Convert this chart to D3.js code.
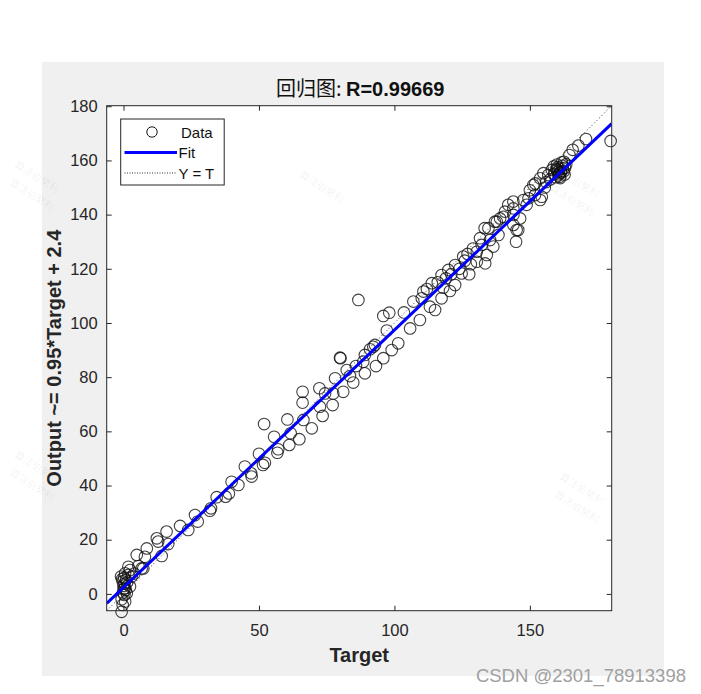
<!DOCTYPE html>
<html>
<head>
<meta charset="utf-8">
<script src="https://cdn.jsdelivr.net/npm/d3@7"></script>
<style>
  body { margin: 0; background: #fff; }
</style>
</head>
<body>
<div id="chart"></div>
<script>
// targets / outputs
var targets = [
  -0.7, -0.3, -0.7, 0.3, 0.8, -0.2, 0.5, 0, 0.4, -0.3, 0.9, 0.2, -0.9, 1.8, 2.4, 3.0, 1.8, 2.4, 0.6, 1.2, 0.1, -0.5, 0.6, 1.3,
  4.9, 8.6, 7.9, 6.7, 5.5, 7.3, 4.0,
  12.3, 12.8, 14.1, 15.9, 16.5, 20.9, 23.9, 26.4, 27.4, 31.9, 32.3, 34.4, 37.7, 38.9, 39.9, 42.4, 44.8, 47.1, 47.3, 50.0,
  51.5, 52.2, 51.9, 55.6, 57.1, 56.8, 60.5, 61.7, 61.2, 64.9, 66.1, 66.1, 66.4, 69.5, 72.3, 72.5, 73.5, 74.4, 77.4, 77.2,
  78.1, 81.1, 79.9, 80.1, 82.4, 83.6, 84.8, 85.8, 86.7, 88.5, 89.1, 89.1, 91.0, 92.2, 92.8, 93.2, 95.9, 95.9, 98.1, 97.2,
  99.0, 101.4, 103.5, 105.8, 107.0, 109.4, 110.1, 110.7, 113.8, 113.1, 115.0, 117.4, 117.4, 119.9, 120.5, 122.4, 122.4,
  124.8, 125.4, 127.6, 128.2, 130.4, 130.4, 131.6, 132.2, 133.3, 133.5, 134.1, 134.7, 135.3, 136.5, 137.1, 137.8, 138.4,
  139.0, 140.2, 140.8, 142.0, 143.9, 143.9, 143.9, 143.9, 144.9, 145.1, 145.7, 146.4, 147.6, 148.8, 151.3, 151.9, 153.8,
  154.4, 153.8, 155.0, 156.8, 158.1,
  159, 160, 160.5, 161, 161.5, 162, 162.5, 160, 159.5, 161.2, 162.8, 163, 158.8, 157.5, 161.8,
  160.3, 161.4, 160.8, 159.8, 162.2, 161.0, 160.2, 163.4,
  162.6, 164.6, 165.8, 167.9, 170.7, 179.8,
  112, 116, 119, 121, 126, 127, 129, 124, 118, 150, 152, 149.5, 155.5, 156
];
var outputs = [
  -6.6, -4.1, -2.0, -0.4, 1.4, 0.5, 2.2, 3.0, 3.8, 4.6, 5.2, 6.0, 6.4, 7.0, 2.7, 6.4, 10.0, 8.8, -2.8, 0.2, 1.8, 5.5, 7.6, 4.2,
  14.4, 16.8, 13.7, 9.4, 10.3, 9.4, 7.5,
  20.5, 19.3, 14.0, 23.0, 18.4, 25.1, 23.6, 29.1, 26.7, 30.7, 31.6, 35.7, 35.9, 37.1, 41.4, 40.2, 47.0, 44.5, 43.3, 51.7,
  47.6, 48.4, 62.7, 58.0, 53.4, 52.1, 64.4, 59.3, 55.0, 57.1, 74.6, 70.6, 64.2, 61.1, 75.9, 69.1, 65.7, 74.0, 74.0, 69.7,
  79.6, 74.6, 87.2, 87.0, 82.6, 80.4, 78.0, 84.1, 108.5, 85.7, 88.2, 81.4, 90.3, 91.2, 91.9, 84.1, 87.0, 102.6, 103.8, 97.2,
  90.0, 92.5, 103.9, 98.0, 107.9, 101.1, 109.1, 111.6, 114.7, 106.0, 104.8, 109.1, 117.7, 119.6, 111.8, 114.0, 121.4,
  118.3, 124.5, 118.0, 121.7, 126.3, 122.6, 131.3, 128.8, 135.0, 122.0, 125.1, 135.0, 130.6, 128.2, 137.4, 137.4, 132.5,
  138.6, 139.2, 141.1, 143.6, 142.3, 144.8, 139.9, 136.2, 130.0, 134.3, 134.3, 138.6, 145.4, 143.6, 150.9, 147.2, 145.4,
  146.6, 153.4, 155.3, 154.6, 156.5,
  155, 156.5, 154.5, 157, 155.5, 158, 156, 158.5, 153.8, 153.5, 154.8, 157.3, 157.8, 153, 159.3,
  155.8, 156.0, 155.2, 156.8, 157.0, 154.0, 157.5, 158.6,
  159.5, 162.0, 163.9, 165.5, 167.9, 167.2,
  112.5, 115, 116.5, 118, 123, 125.5, 127.5, 120, 113, 149, 151.5, 146, 150, 152
];
var tickVals = [0, 50, 100, 150];
var yTickVals = [0, 20, 40, 60, 80, 100, 120, 140, 160, 180];
var fitSlope = 0.95, fitIntercept = 2.4;
var titleCn = "回归图: ", titleR = "R=0.99669";
var xLabel = "Target", yLabel = "Output ~= 0.95*Target + 2.4";
var legendItems = ["Data", "Fit", "Y = T"];

var W = 701, H = 694;
var FONT = "'Liberation Sans', Arial, sans-serif";
var svg = d3.select("#chart").append("svg")
    .attr("width", W).attr("height", H)
    .style("font-family", FONT);

// figure grey panel
svg.append("rect").attr("x", 42).attr("y", 62).attr("width", 622).attr("height", 614)
    .attr("fill", "#f0f0f0");

var L = 106.7, R = 611.7, T = 105.7, B = 610.7;
var dom = [-6.2, 180.2];
var x = d3.scaleLinear().domain(dom).range([L, R]);
var y = d3.scaleLinear().domain(dom).range([B, T]);

svg.append("rect").attr("x", L).attr("y", T).attr("width", R - L).attr("height", B - T)
    .attr("fill", "#fff");

// watermark (faint)
var wm = svg.append("g");
[[35, 180], [30, 198], [575, 185], [570, 203], [35, 470], [30, 488], [580, 492], [575, 510], [320, 190]].forEach(function(p) {
    wm.append("text").attr("transform", "translate(" + p[0] + "," + p[1] + ") rotate(32)")
        .attr("text-anchor", "middle")
        .attr("fill", "#000").attr("fill-opacity", 0.07)
        .style("font-family", "'Noto Sans CJK SC'").style("font-size", "10px")
        .text("算法伯努利");
});

var plot = svg.append("g");
svg.append("clipPath").attr("id", "clip")
    .append("rect").attr("x", L).attr("y", T).attr("width", R - L).attr("height", B - T);

var data = targets.map(function(t, i) { return [t, outputs[i]]; });

// circles
plot.append("g").selectAll("circle")
    .data(data)
    .enter().append("circle")
    .attr("cx", function(d) { return x(d[0]); })
    .attr("cy", function(d) { return y(d[1]); })
    .attr("r", 5.8)
    .attr("fill", "none")
    .attr("stroke", "#111")
    .attr("stroke-opacity", 0.8)
    .attr("stroke-width", 1.1);

// fit line
plot.append("line")
    .attr("clip-path", "url(#clip)")
    .attr("x1", x(dom[0])).attr("y1", y(fitSlope * dom[0] + fitIntercept))
    .attr("x2", x(dom[1])).attr("y2", y(fitSlope * dom[1] + fitIntercept))
    .attr("stroke", "#0000ff").attr("stroke-width", 3);

// Y = T
plot.append("line")
    .attr("x1", x(dom[0])).attr("y1", y(dom[0]))
    .attr("x2", x(dom[1])).attr("y2", y(dom[1]))
    .attr("stroke", "#333").attr("stroke-width", 1).attr("stroke-dasharray", "1,2.5");

// axes: box with inward ticks
var axCol = "#262626";
function styleAxis(g) {
    g.select(".domain").remove();
    g.selectAll("line").attr("stroke", axCol);
    g.selectAll("text").attr("fill", axCol).style("font-size", "16.5px")
        .style("font-family", FONT);
}
svg.append("g").attr("transform", "translate(0," + B + ")")
    .call(d3.axisBottom(x).tickValues(tickVals).tickSizeInner(-5).tickSizeOuter(0).tickPadding(14))
    .call(styleAxis);
svg.append("g").attr("transform", "translate(0," + T + ")")
    .call(d3.axisTop(x).tickValues(tickVals).tickSizeInner(-5).tickSizeOuter(0).tickFormat(""))
    .call(styleAxis);
svg.append("g").attr("transform", "translate(" + L + ",0)")
    .call(d3.axisLeft(y).tickValues(yTickVals).tickSizeInner(-5).tickSizeOuter(0).tickPadding(9))
    .call(styleAxis);
svg.append("g").attr("transform", "translate(" + R + ",0)")
    .call(d3.axisRight(y).tickValues(yTickVals).tickSizeInner(-5).tickSizeOuter(0).tickFormat(""))
    .call(styleAxis);
svg.append("rect").attr("x", L).attr("y", T).attr("width", R - L).attr("height", B - T)
    .attr("fill", "none").attr("stroke", axCol).attr("stroke-width", 1);

// title
var title = svg.append("text").attr("x", (L + R) / 2 + 1).attr("y", 96)
    .attr("text-anchor", "middle").attr("fill", "#111").style("font-size", "20px");
title.append("tspan").style("font-family", "'Noto Sans CJK SC'").style("font-weight", "normal").text(titleCn);
title.append("tspan").style("font-weight", "bold").text(titleR);

// axis labels
svg.append("text").attr("x", (L + R) / 2).attr("y", 662)
    .attr("text-anchor", "middle").attr("fill", axCol)
    .style("font-size", "20px").style("font-weight", "bold").text(xLabel);
svg.append("text").attr("transform", "translate(61," + ((T + B) / 2) + ") rotate(-90)")
    .attr("text-anchor", "middle").attr("fill", axCol)
    .style("font-size", "20px").style("font-weight", "bold").text(yLabel);

// legend
var lg = svg.append("g");
lg.append("rect").attr("x", 120.7).attr("y", 119).attr("width", 103.5).attr("height", 66)
    .attr("fill", "#fff").attr("stroke", axCol).attr("stroke-width", 1);
var rows = [132, 152.5, 173];
lg.append("circle").attr("cx", 152).attr("cy", rows[0]).attr("r", 5.2)
    .attr("fill", "none").attr("stroke", "#111").attr("stroke-width", 1);
lg.append("line").attr("x1", 124.5).attr("x2", 177).attr("y1", rows[1]).attr("y2", rows[1])
    .attr("stroke", "#0000ff").attr("stroke-width", 3);
lg.append("line").attr("x1", 124.5).attr("x2", 177).attr("y1", rows[2]).attr("y2", rows[2])
    .attr("stroke", "#333").attr("stroke-width", 1).attr("stroke-dasharray", "1,1.5");
lg.selectAll("text.lab").data(legendItems).enter().append("text")
    .attr("class", "lab")
    .attr("x", function(d, i) { return i == 0 ? 181 : 178.5; })
    .attr("y", function(d, i) { return rows[i] + 5.5; })
    .attr("fill", "#111").style("font-size", "15px")
    .text(function(d) { return d; });

// credit
svg.append("text").attr("x", 686).attr("y", 682).attr("text-anchor", "end")
    .attr("fill", "#a0a0a0").style("font-size", "18.5px").text("CSDN @2301_78913398");
</script>
</body>
</html>
